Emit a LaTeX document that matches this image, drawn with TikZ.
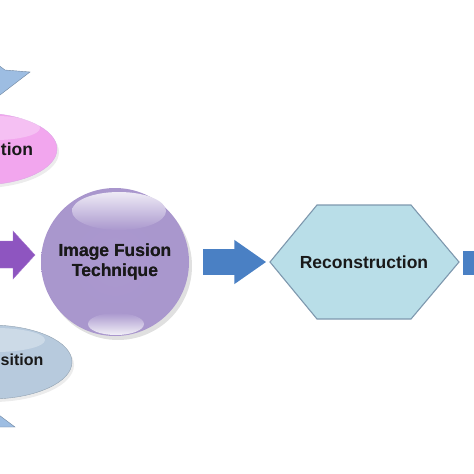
\documentclass[tikz,border=0pt]{standalone}
\usepackage{fontspec}
\setmainfont{Liberation Sans}
\usetikzlibrary{shadows,arrows.meta}

\definecolor{pinkfill}{HTML}{F2A6EE}
\definecolor{pinkline}{HTML}{DDA6E6}
\definecolor{lavlight}{HTML}{AA98CE}
\definecolor{lavdark}{HTML}{8A6CB4}
\definecolor{hexfill}{HTML}{B9DEE8}
\definecolor{hexline}{HTML}{7E98AE}
\definecolor{arrowblue}{HTML}{4A80C4}
\definecolor{paleblue}{HTML}{9DBDE2}
\definecolor{greyblue}{HTML}{B7CADD}
\definecolor{arrowviolet}{HTML}{8E55C0}

\pgfdeclareradialshading{sphere}{\pgfpoint{0bp}{0bp}}{color(0bp)=(lavlight); color(36bp)=(lavlight!95!lavdark); color(47bp)=(lavdark); color(50bp)=(lavdark)}

\begin{document}
\begin{tikzpicture}[x=1pt,y=-1pt, every node/.style={font=\bfseries\fontsize{17.5}{20}\selectfont, text=black!90}]
\useasboundingbox (0,0) rectangle (474,474);
\clip (0,0) rectangle (474,474);

\draw[fill=paleblue, draw=paleblue!70!black] (-15,55) -- (5,70) -- (30,72) -- (0,95) -- (-15,100) -- cycle;

\draw[fill=pinkfill, draw=pinkline, drop shadow={opacity=0.15, shadow xshift=2pt, shadow yshift=-3pt}] (-20,149) ellipse (77 and 36);
\fill[white, opacity=0.3] (-5,128) ellipse (45 and 12);
\node (pinktext) at (17,149) {tion};

\draw[fill=arrowviolet, draw=arrowviolet!80!white] (-5,241) -- (13,241) -- (13,231) -- (35,255) -- (13,279) -- (13,268) -- (-5,268) -- cycle;

\fill[black, opacity=0.12] (118,266) circle (74);
\node[circle, minimum size=148, inner sep=0, shading=sphere, align=center] (fusion) at (115,262) {Image Fusion\\Technique};
\shade[top color=white!80!lavlight, bottom color=lavlight] (119,211) ellipse (47 and 19);
\shade[top color=lavlight, bottom color=white!85!lavlight] (116,324) ellipse (28 and 11);
\node[align=center] (fusiontext) at (fusion) {Image Fusion\\Technique};

\draw[fill=hexfill, draw=hexline, line width=1.1pt] (270,262) -- (317,205) -- (411,205) -- (459,262) -- (411,319) -- (317,319) -- cycle;
\node[minimum width=189, minimum height=114, inner sep=0] (recon) at (364,262) {Reconstruction};

\draw[arrowblue, line width=26pt, -{Triangle[width=42pt,length=32pt]}, shorten <=14pt, shorten >=3pt] (fusion) -- (recon);

\draw[fill=greyblue, draw=greyblue!80!black, drop shadow={opacity=0.15, shadow xshift=2pt, shadow yshift=-3pt}] (-10,362) ellipse (82 and 37);
\fill[white, opacity=0.3] (-5,340) ellipse (50 and 12);
\node[font=\bfseries\fontsize{16}{19}\selectfont] (bluetext) at (22,360) {sition};

\draw[fill=paleblue, draw=paleblue!70!black] (-5,412) -- (15,427) -- (-5,427) -- cycle;

\draw[fill=arrowblue, draw=white] (462,250) rectangle (480,275);
\end{tikzpicture}
\end{document}
